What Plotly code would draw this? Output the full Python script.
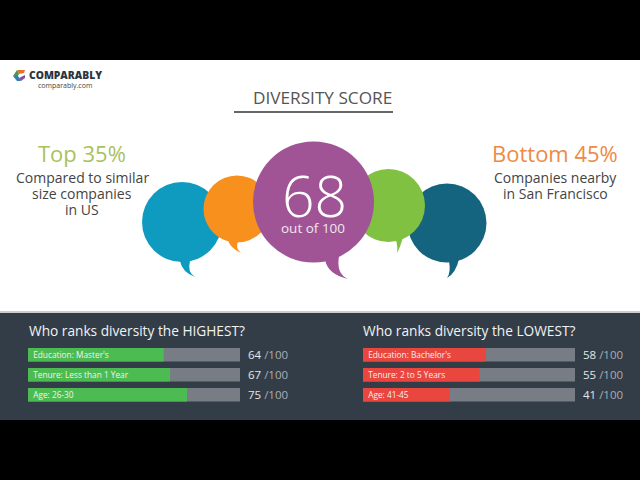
import plotly.graph_objects as go

high_labels = ["Education: Master's", "Tenure: Less than 1 Year", "Age: 26-30"]
high_values = [64, 67, 75]
low_labels = ["Education: Bachelor's", "Tenure: 2 to 5 Years", "Age: 41-45"]
low_values = [58, 55, 41]
max_score = [100, 100, 100]

FONT = "Open Sans"
TRACK = "#787c84"
GREEN = "#4cbb52"
RED = "#ea4640"

fig = go.Figure()
# an invisible trace keeps the full page axes alive for shapes and text
fig.add_trace(go.Scatter(x=[0], y=[0], mode="none", hoverinfo="skip"))

# score bars, grey track behind the coloured value
for axis, labels, values, colour in [("2", high_labels, high_values, GREEN),
                                     ("3", low_labels, low_values, RED)]:
    fig.add_trace(go.Bar(x=max_score, y=labels, orientation="h", marker=dict(color=TRACK, line_width=0),
                         xaxis="x" + axis, yaxis="y" + axis, hoverinfo="skip"))
    fig.add_trace(go.Bar(x=values, y=labels, orientation="h", marker=dict(color=colour, line_width=0),
                         text=["&nbsp;" + lab for lab in labels], textposition="inside",
                         insidetextanchor="start", textangle=0, constraintext="none",
                         textfont=dict(family=FONT, size=8.3, color="#f2f2f2"),
                         xaxis="x" + axis, yaxis="y" + axis, hoverinfo="skip"))
    for lab, val in zip(labels, values):
        fig.add_annotation(x=100, y=lab, xref="x" + axis, yref="y" + axis, xanchor="left", xshift=6,
                           showarrow=False, font=dict(family=FONT, size=11.5, color="#a9adb3"),
                           text=f"<span style='color:#e6e6e6'>{val}</span> /100")


def bubble(cx, cy, r, tail, colour):
    # tail = start, tip, end of the speech bubble pointer
    (x0, y0), (x1, y1), (x2, y2) = tail
    fig.add_shape(type="path", xref="x", yref="y", fillcolor=colour, line_width=0, layer="below",
                  path=f"M {x0} {y0} Q {x0+2} {y1-5} {x1} {y1} Q {x2-3} {y1-5} {x2} {y2} Z")
    fig.add_shape(type="circle", xref="x", yref="y", x0=cx - r, x1=cx + r, y0=cy - r, y1=cy + r,
                  fillcolor=colour, line_width=0, layer="below")


def text(x, y, s, size, colour, anchor="center", weight=400):
    fig.add_annotation(x=x, y=y, xref="x", yref="y", text=s, showarrow=False, xanchor=anchor,
                       yanchor="middle", font=dict(family=FONT, size=size, color=colour, weight=weight))


def rect(x0, y0, x1, y1, colour):
    fig.add_shape(type="rect", xref="x", yref="y", x0=x0, x1=x1, y0=y0, y1=y1,
                  fillcolor=colour, line_width=0, layer="below")


rect(0, 60, 640, 311, "#ffffff")
rect(0, 311, 640, 313, "#c9ccd0")
rect(0, 313, 640, 420, "#333d48")
rect(234, 111, 393, 113, "#666666")

bubble(182, 222, 40, [(180, 261), (195, 277), (190, 261)], "#0f9bc0")
bubble(237, 209, 33.5, [(228, 240), (241, 253), (238, 241)], "#f8901e")
bubble(447, 223, 39.5, [(449, 261), (447, 278), (459, 259)], "#14637f")
bubble(388.5, 205.5, 36.5, [(396, 240), (397, 253), (403, 237)], "#80c142")
bubble(313.5, 202, 60.5, [(325, 259), (348, 279), (339, 256)], "#a05496")

# logo mark
fig.add_shape(type="path", xref="x", yref="y", fillcolor="#e8702a", line_width=0,
              path="M 17 70 L 25 70 L 24 73 L 19 74 Z")
fig.add_shape(type="path", xref="x", yref="y", fillcolor="#4a9a48", line_width=0,
              path="M 17 70 L 19 74 L 18 76 L 13 76 Z")
fig.add_shape(type="path", xref="x", yref="y", fillcolor="#2f7fb0", line_width=0,
              path="M 13 76 L 18 76 L 21 81 L 17 81 Z")
fig.add_shape(type="path", xref="x", yref="y", fillcolor="#8a4f9e", line_width=0,
              path="M 19 78 L 25 75 L 25 78 L 21 81 Z")

text(27, 75, "COMPARABLY", 10.3, "#2c3440", "left", 800)
text(65, 85, "comparably.com", 7, "#444444")
text(251, 97, "DIVERSITY SCORE", 17.2, "#555555", "left")
text(82, 153, "Top 35%", 22, "#a9c25c")
text(82, 177, "Compared to similar", 14, "#444444")
text(82, 193, "size companies", 14, "#444444")
text(82, 209, "in US", 14, "#444444")
text(555, 153, "Bottom 45%", 22, "#ee8a45")
text(555, 177, "Companies nearby", 14, "#444444")
text(555, 193, "in San Francisco", 14, "#444444")
text(314, 195, "68", 57, "#ffffff", weight=300)
text(313, 228, "out of 100", 13.5, "#f0e6ef")
text(27, 330, "Who ranks diversity the HIGHEST?", 13.7, "#f2f2f2", "left")
text(361, 330, "Who ranks diversity the LOWEST?", 13.7, "#f2f2f2", "left")

bar_y = dict(domain=[1 - 404.7 / 480, 1 - 344.7 / 480], autorange="reversed", visible=False)
fig.update_layout(
    width=640, height=480, margin=dict(l=0, r=0, t=0, b=0), paper_bgcolor="#000000", plot_bgcolor="rgba(0,0,0,0)",
    barmode="overlay", bargap=0.32, showlegend=False,
    xaxis=dict(domain=[0, 1], range=[0, 640], visible=False),
    yaxis=dict(domain=[0, 1], range=[480, 0], visible=False),
    xaxis2=dict(domain=[28 / 640, 240 / 640], range=[0, 100], visible=False),
    yaxis2=dict(anchor="x2", **bar_y),
    xaxis3=dict(domain=[363 / 640, 575 / 640], range=[0, 100], visible=False),
    yaxis3=dict(anchor="x3", **bar_y),
)

fig.write_html("out.html", config=dict(displayModeBar=False),
               post_script="document.body.style.margin='0';document.body.style.overflow='hidden';")
